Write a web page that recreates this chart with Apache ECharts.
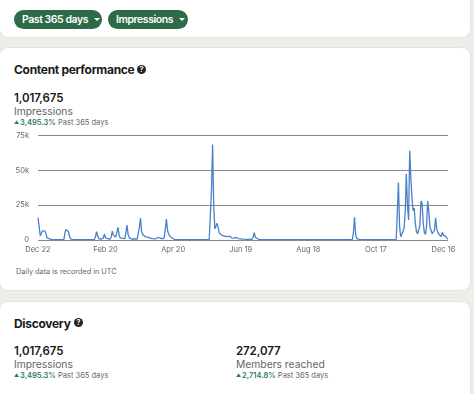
<!DOCTYPE html>
<html>
<head>
<meta charset="utf-8">
<script src="https://cdn.jsdelivr.net/npm/echarts@6/dist/echarts.min.js"></script>
<style>
  html, body { margin: 0; padding: 0; }
  body { width: 474px; height: 394px; background: #efede9; position: relative; overflow: hidden;
         font-family: Inter, "Noto Sans", "Liberation Sans", sans-serif; color: #191919; }
  .card { position: absolute; left: 0; width: 470px; background: #fff; border-radius: 8px;
          box-shadow: 0 0 0 1px #e6e3dd; }
  .pill { position: absolute; top: 10px; height: 19px; border-radius: 10px; background: #2d6a47;
          color: #fff; font-size: 10.5px; font-weight: 600; letter-spacing: -0.45px; line-height: 19px;
          padding-left: 8px; box-sizing: border-box; white-space: nowrap; }
  .caret { display: inline-block; width: 0; height: 0; border-left: 3px solid transparent;
           border-right: 3px solid transparent; border-top: 3.5px solid #fff; margin-left: 6px; vertical-align: 2px; }
  .t { position: absolute; white-space: nowrap; }
  .h { font-size: 12px; font-weight: 700; letter-spacing: -0.3px; }
  .big { font-size: 11.5px; font-weight: 600; letter-spacing: -0.1px; }
  .sub { font-size: 10.3px; color: #666; }
  .pct { font-size: 7.5px; color: #666; }
  .pct b { color: #2e7d55; font-weight: 600; }
  .pct i { font-style: normal; font-size: 5px; color: #2e7d55; vertical-align: 1px; margin-right: 1px; }
  .help { position: absolute; width: 9px; height: 9px; border-radius: 50%; background: #222; color: #fff;
          font-size: 7px; font-weight: 700; line-height: 9px; text-align: center; }
  .note { font-size: 7.3px; color: #666; }
  #chart { position: absolute; left: 0; top: 125px; width: 474px; height: 140px; }
</style>
</head>
<body>
<div class="card" style="top:-10px;height:47px;"></div>
<div class="pill" style="left:14px;width:88px;">Past 365 days<span class="caret"></span></div>
<div class="pill" style="left:108px;width:80px;">Impressions<span class="caret"></span></div>

<div class="card" style="top:48px;height:242px;"></div>
<div class="t h" style="left:14px;top:62px;">Content performance</div>
<div class="help" style="left:137px;top:65px;">?</div>
<div class="t big" style="left:14px;top:91px;">1,017,675</div>
<div class="t sub" style="left:14px;top:105px;">Impressions</div>
<div class="t pct" style="left:14px;top:118px;"><i>▲</i><b>3,495.3%</b> Past 365 days</div>
<div id="chart"></div>
<div class="t note" style="left:16px;top:267px;">Daily data is recorded in UTC</div>

<div class="card" style="top:302px;height:110px;"></div>
<div class="t h" style="left:14px;top:316px;">Discovery</div>
<div class="help" style="left:74px;top:318px;">?</div>
<div class="t big" style="left:14px;top:344px;">1,017,675</div>
<div class="t sub" style="left:14px;top:358px;">Impressions</div>
<div class="t pct" style="left:14px;top:371px;"><i>▲</i><b>3,495.3%</b> Past 365 days</div>
<div class="t big" style="left:236px;top:344px;">272,077</div>
<div class="t sub" style="left:236px;top:358px;">Members reached</div>
<div class="t pct" style="left:236px;top:371px;"><i>▲</i><b>2,714.8%</b> Past 365 days</div>

<script>
// Day offsets from Dec 22 (start of the 365-day window) and daily impressions
const days = [0,1,2,3,4,5,6,7,8,9,12,20,23,24,25,26,27,28,29,31,39,40,41,50,51,52,53,54,56,58,59,60,61,64,65,66,67,68,69,70,71,72,73,74,77,78,79,80,81,83,88,89,90,91,92,93,94,95,96,97,99,100,101,103,105,106,107,108,110,112,113,114,115,116,117,118,119,121,125,152,153,154,155,156,157,158,159,160,161,162,163,164,166,168,170,172,174,176,178,182,186,190,191,192,193,194,196,279,280,281,282,283,285,300,307,308,309,318,319,320,321,322,323,324,325,326,327,328,329,330,331,332,333,334,335,336,337,338,339,340,341,342,343,344,345,346,347,348,349,350,351,352,353,354,355,356,357,358,359,360,361,362,363,364];
const impressions = [16000,10000,3000,2500,6500,7000,6500,5000,1500,500,300,300,500,5500,7500,8500,6000,2500,800,300,300,1500,300,300,2000,6000,3000,1000,500,1500,4300,1500,500,500,2000,6400,3500,4000,2000,3000,9000,3500,1500,800,1000,5000,10700,4000,1500,700,700,2000,9000,15700,6000,4000,4200,2500,3000,2000,1500,2000,1000,800,1000,2300,2000,1000,800,1500,8000,15000,7000,4000,3000,2000,1000,500,300,300,1000,35000,68500,25000,8000,10000,12000,8500,5000,4000,3500,3000,2600,2500,2800,1500,1300,1800,1000,600,400,500,2000,5200,2000,600,300,300,5000,16300,4000,1000,400,300,300,1500,300,300,20000,41300,10000,2400,3500,6000,8600,20000,47300,25000,14300,64000,45000,30000,21000,23000,12000,6000,4500,3600,10000,28000,26500,12000,5500,4000,10000,28000,20000,9000,7000,4500,3600,7000,16000,8000,5500,4000,3500,2500,5500,3500,2500,2400,1500,500];
const xTickLabels = ['Dec 22','Feb 20','Apr 20','Jun 19','Aug 18','Oct 17','Dec 16'];
const yTickLabels = ['0','25k','50k','75k'];

const chart = echarts.init(document.getElementById('chart'), null, { renderer: 'canvas' });
chart.setOption({
  animation: false,
  grid: { left: 38, top: 10.5, width: 410, height: 104.5, containLabel: false },
  xAxis: {
    type: 'value', min: 0, max: 364, interval: 60,
    axisLine: { show: false }, axisTick: { show: false }, splitLine: { show: false },
    axisLabel: { color: '#666', fontSize: 7.5, margin: 6, showMaxLabel: false, fontFamily: 'Inter',
      formatter: v => (v % 60 === 0 && xTickLabels[v / 60]) ? xTickLabels[v / 60] : '' }
  },
  yAxis: {
    type: 'value', min: 0, max: 75000, interval: 25000,
    axisLine: { show: false }, axisTick: { show: false },
    splitLine: { show: true, lineStyle: { color: '#8a8a8a', width: 1 } },
    axisLabel: { color: '#666', fontSize: 7.5, margin: 9, fontFamily: 'Inter',
      formatter: v => yTickLabels[v / 25000] }
  },
  series: [{
    type: 'line', showSymbol: false, symbol: 'none',
    data: days.map((d, i) => [d, impressions[i]]),
    lineStyle: { color: '#4a80c8', width: 1.3 },
    itemStyle: { color: '#4a80c8' }
  }]
});
</script>
</body>
</html>
